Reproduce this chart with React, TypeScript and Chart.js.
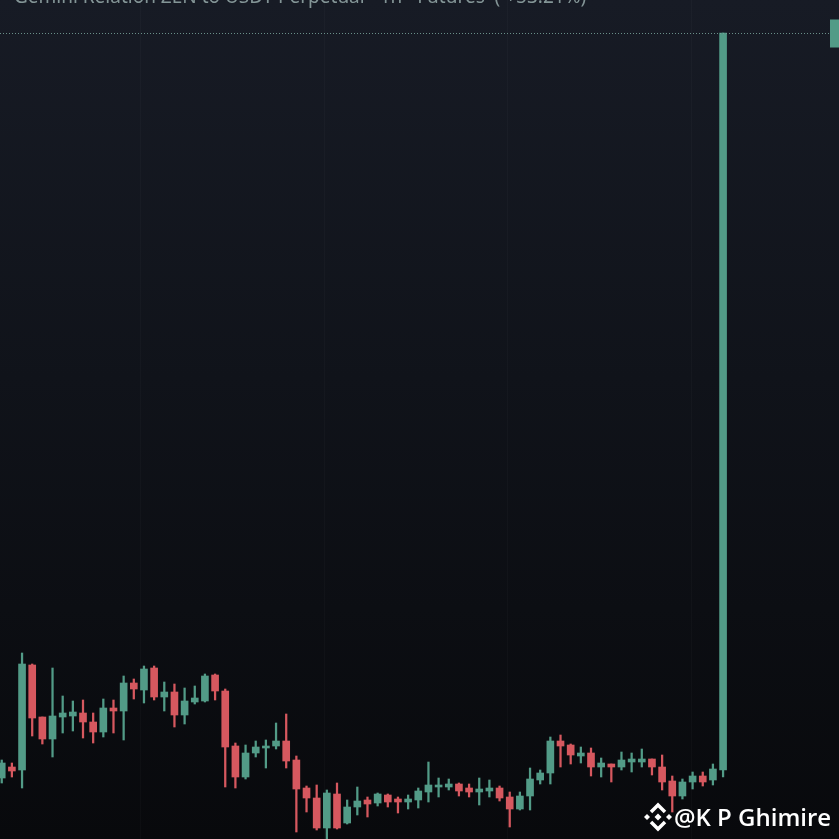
import { useEffect, useRef } from "react";
import { Chart, registerables } from "chart.js";

Chart.register(...registerables);

// ---- data (price units) ----
const opens = [
  0.261, 0.272, 0.269, 0.374, 0.322, 0.300, 0.322, 0.323, 0.326, 0.317,
  0.307, 0.331, 0.328, 0.356, 0.349, 0.371, 0.342, 0.347, 0.324, 0.337,
  0.338, 0.364, 0.348, 0.293, 0.262, 0.286, 0.291, 0.293, 0.298, 0.279,
  0.251, 0.241, 0.211, 0.245, 0.216, 0.232, 0.239, 0.236, 0.244, 0.240,
  0.237, 0.239, 0.247, 0.252, 0.252, 0.255, 0.251, 0.247, 0.248, 0.251,
  0.242, 0.230, 0.243, 0.259, 0.266, 0.298, 0.294, 0.283, 0.286, 0.272,
  0.275, 0.272, 0.277, 0.277, 0.280, 0.272, 0.258, 0.243, 0.257, 0.263,
  0.259, 0.269,
];
const closes = [
  0.276, 0.268, 0.375, 0.321, 0.300, 0.323, 0.326, 0.327, 0.317, 0.307,
  0.331, 0.328, 0.356, 0.350, 0.370, 0.342, 0.347, 0.324, 0.338, 0.341,
  0.363, 0.348, 0.292, 0.262, 0.286, 0.292, 0.293, 0.298, 0.278, 0.250,
  0.241, 0.211, 0.246, 0.211, 0.232, 0.238, 0.235, 0.245, 0.237, 0.237,
  0.240, 0.248, 0.254, 0.254, 0.255, 0.248, 0.247, 0.250, 0.251, 0.241,
  0.230, 0.243, 0.260, 0.266, 0.298, 0.293, 0.284, 0.286, 0.272, 0.276,
  0.272, 0.279, 0.280, 0.280, 0.272, 0.257, 0.243, 0.257, 0.263, 0.257,
  0.270, 1.006,
];
const highs = [
  0.279, 0.276, 0.386, 0.375, 0.322, 0.371, 0.343, 0.338, 0.339, 0.326,
  0.340, 0.339, 0.363, 0.360, 0.373, 0.373, 0.357, 0.355, 0.351, 0.353,
  0.365, 0.365, 0.350, 0.296, 0.294, 0.298, 0.299, 0.316, 0.325, 0.283,
  0.253, 0.254, 0.249, 0.256, 0.239, 0.252, 0.242, 0.246, 0.245, 0.242,
  0.244, 0.251, 0.277, 0.261, 0.260, 0.256, 0.255, 0.261, 0.259, 0.253,
  0.247, 0.247, 0.271, 0.269, 0.302, 0.304, 0.295, 0.292, 0.291, 0.281,
  0.275, 0.287, 0.286, 0.290, 0.280, 0.284, 0.263, 0.260, 0.267, 0.267,
  0.275, 1.006,
];
const lows = [
  0.256, 0.262, 0.251, 0.303, 0.295, 0.282, 0.306, 0.308, 0.301, 0.296,
  0.302, 0.306, 0.299, 0.340, 0.336, 0.339, 0.328, 0.312, 0.315, 0.335,
  0.337, 0.339, 0.252, 0.251, 0.260, 0.282, 0.271, 0.290, 0.271, 0.207,
  0.227, 0.209, 0.198, 0.210, 0.215, 0.224, 0.222, 0.233, 0.232, 0.226,
  0.230, 0.231, 0.237, 0.242, 0.249, 0.243, 0.242, 0.234, 0.242, 0.238,
  0.212, 0.229, 0.229, 0.255, 0.255, 0.272, 0.275, 0.276, 0.263, 0.262,
  0.257, 0.269, 0.267, 0.272, 0.264, 0.249, 0.227, 0.240, 0.250, 0.253,
  0.254, 0.262,
];
// time-axis session boundaries (in candle-index units)
const sessionBoundaries = [13.6, 31.7, 49.7, 67.8];

const titleText = "Gemini Relation ZEN to USDT Perpetual · 1h · Futures  ( +53.21%)";
const watermarkText = "@K P Ghimire";

const GREEN = "#529b87";
const RED = "#d6585f";

export default function App() {
  const ref = useRef<HTMLCanvasElement | null>(null);

  useEffect(() => {
    const canvas = ref.current;
    if (!canvas) return;
    const colors = opens.map((o, i) => (closes[i] >= o ? GREEN : RED));

    const decor = {
      id: "decor",
      beforeDraw(chart: any) {
        const { ctx, width, height } = chart;
        const g = ctx.createLinearGradient(0, 0, 0, height);
        g.addColorStop(0, "#171b25");
        g.addColorStop(0.45, "#10131a");
        g.addColorStop(1, "#08090c");
        ctx.save();
        ctx.fillStyle = g;
        ctx.fillRect(0, 0, width, height);
        ctx.restore();
      },
      beforeDatasetsDraw(chart: any) {
        const { ctx, scales, chartArea } = chart;
        ctx.save();
        ctx.strokeStyle = "rgba(255,255,255,0.025)";
        ctx.lineWidth = 1;
        sessionBoundaries.forEach((b) => {
          const x = Math.round(scales.x.getPixelForValue(b)) + 0.5;
          ctx.beginPath();
          ctx.moveTo(x, chartArea.top);
          ctx.lineTo(x, chartArea.bottom);
          ctx.stroke();
        });
        ctx.restore();
      },
      afterDatasetsDraw(chart: any) {
        const { ctx, scales, width } = chart;
        const last = closes[closes.length - 1];
        const y = Math.round(scales.y.getPixelForValue(last)) + 0.5;
        ctx.save();
        ctx.strokeStyle = "rgba(120,165,155,0.85)";
        ctx.lineWidth = 1;
        ctx.setLineDash([1, 2]);
        ctx.beginPath();
        ctx.moveTo(0, y);
        ctx.lineTo(width, y);
        ctx.stroke();
        ctx.setLineDash([]);
        ctx.fillStyle = GREEN;
        ctx.fillRect(width - 9, y - 14, 12, 28);
        ctx.restore();
      },
      afterDraw(chart: any) {
        const { ctx } = chart;
        ctx.save();
        // title (cut off at top)
        ctx.fillStyle = "rgba(150,170,170,0.85)";
        ctx.font = "19px 'Noto Sans'";
        ctx.textBaseline = "alphabetic";
        ctx.fillText(titleText, 14, 3);
        // watermark
        ctx.fillStyle = "#ffffff";
        ctx.font = "600 24px 'Open Sans'";
        ctx.fillText(watermarkText, 674, 826);
        // Binance-like logo
        const cx = 658, cy = 817;
        const diamond = (x: number, yy: number, r: number) => {
          ctx.beginPath();
          ctx.moveTo(x, yy - r);
          ctx.lineTo(x + r, yy);
          ctx.lineTo(x, yy + r);
          ctx.lineTo(x - r, yy);
          ctx.closePath();
          ctx.fill();
        };
        diamond(cx, cy, 3.5);
        diamond(cx - 11, cy, 3);
        diamond(cx + 11, cy, 3);
        ctx.strokeStyle = "#ffffff";
        ctx.lineWidth = 3.5;
        ctx.beginPath();
        ctx.moveTo(cx - 7, cy - 5);
        ctx.lineTo(cx, cy - 12);
        ctx.lineTo(cx + 7, cy - 5);
        ctx.stroke();
        ctx.beginPath();
        ctx.moveTo(cx - 7, cy + 5);
        ctx.lineTo(cx, cy + 12);
        ctx.lineTo(cx + 7, cy + 5);
        ctx.stroke();
        ctx.restore();
      },
    };

    const chart = new Chart(canvas, {
      type: "bar",
      data: {
        datasets: [
          {
            label: "body",
            data: opens.map((o, i) => ({ x: i, y: [o, closes[i]] })) as any,
            backgroundColor: colors,
            borderWidth: 0,
            barThickness: 7,
            grouped: false,
          } as any,
          {
            label: "wick",
            data: lows.map((l, i) => ({ x: i, y: [l, highs[i]] })) as any,
            backgroundColor: colors,
            borderWidth: 0,
            barThickness: 1.6,
            grouped: false,
          } as any,
        ],
      },
      options: {
        animation: false,
        responsive: true,
        maintainAspectRatio: false,
        layout: { padding: 0 },
        plugins: {
          legend: { display: false },
          tooltip: { enabled: false },
          title: { display: false },
        },
        scales: {
          x: { type: "linear", min: -0.17, max: 82.41, offset: false, display: false },
          y: { min: 0.2, max: 1.039, display: false },
        },
      },
      plugins: [decor],
    });
    return () => chart.destroy();
  }, []);

  return (
    <div style={{ position: "fixed", left: 0, top: 0, width: 839, height: 839 }}>
      <canvas ref={ref} />
    </div>
  );
}
